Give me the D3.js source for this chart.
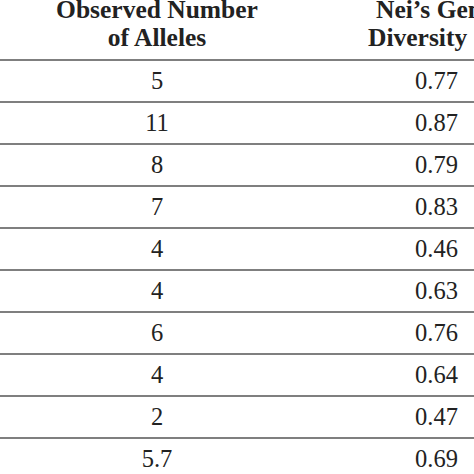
<!DOCTYPE html>
<html><head><meta charset="utf-8">
<script src="https://cdn.jsdelivr.net/npm/d3@7"></script>
<style>body{margin:0;background:#fff}</style></head>
<body><svg id="c" width="474" height="474"></svg>
<script>
const alleles = ["5","11","8","7","4","4","6","4","2","5.7"];
const diversity = ["0.77","0.87","0.79","0.83","0.46","0.63","0.76","0.64","0.47","0.69"];
const headers = [["Observed Number","of Alleles"],["Nei’s Gene","Diversity"]];

const svg = d3.select("#c");
const y = d3.scaleBand().domain(d3.range(alleles.length)).range([60, 480]);
const font = "'Liberation Serif','DejaVu Serif',serif";
const hs = 25.5;

svg.append("text").attr("x",157).attr("y",18).attr("text-anchor","middle")
  .attr("font-family",font).attr("font-weight","bold").attr("font-size",hs).attr("fill","#222").text(headers[0][0]);
svg.append("text").attr("x",157).attr("y",46).attr("text-anchor","middle")
  .attr("font-family",font).attr("font-weight","bold").attr("font-size",hs).attr("fill","#222").text(headers[0][1]);
svg.append("text").attr("x",376).attr("y",18)
  .attr("font-family",font).attr("font-weight","bold").attr("font-size",hs).attr("fill","#222").text(headers[1][0]);
svg.append("text").attr("x",368).attr("y",46)
  .attr("font-family",font).attr("font-weight","bold").attr("font-size",hs).attr("fill","#222").text(headers[1][1]);

svg.selectAll("line.r").data(d3.range(alleles.length)).join("line")
  .attr("x1",0).attr("x2",474).attr("y1",i=>y(i)).attr("y2",i=>y(i))
  .attr("stroke","#555").attr("stroke-width",1.5);

svg.selectAll("text.a").data(alleles).join("text").attr("class","a")
  .attr("x",157).attr("y",(d,i)=>y(i)+29).attr("text-anchor","middle")
  .attr("font-family",font).attr("font-size",24.5).attr("fill","#222").text(d=>d);
svg.selectAll("text.d").data(diversity).join("text").attr("class","d")
  .attr("x",415).attr("y",(d,i)=>y(i)+29)
  .attr("font-family",font).attr("font-size",24.5).attr("fill","#222").text(d=>d);
</script></body></html>
